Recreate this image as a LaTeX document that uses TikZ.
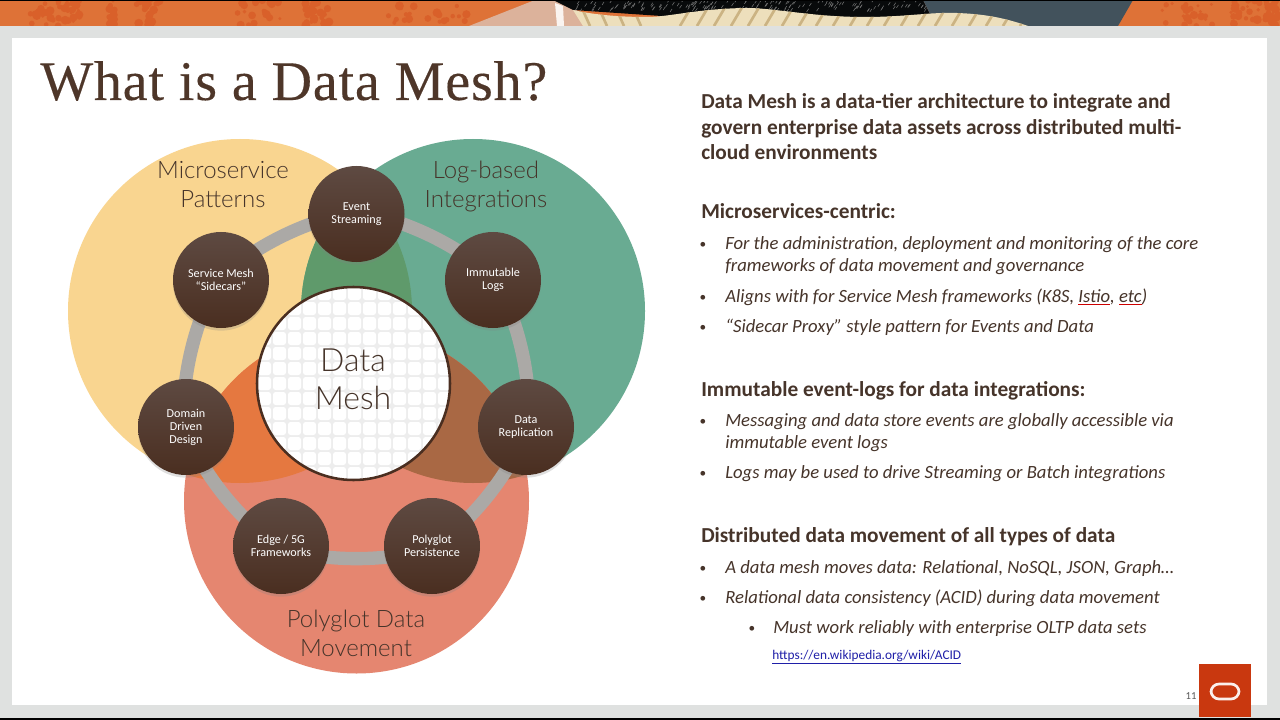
\documentclass[tikz,border=0pt]{standalone}
\usepackage{fontspec}
\usepackage{xcolor}
\usetikzlibrary{backgrounds,shadows}
\setmainfont{Carlito}
\newfontfamily\titlefont[FakeBold=0.25,LetterSpace=1.5]{Liberation Serif}
\newfontfamily\handfont{Lato Light}
\definecolor{ink}{HTML}{46342A}
\definecolor{titleink}{HTML}{4E3629}
\definecolor{framegray}{HTML}{DFE1E0}
\definecolor{ringgray}{HTML}{ABA9A6}
\definecolor{hubtop}{HTML}{5E4A42}
\definecolor{hubbottom}{HTML}{4A2E20}
\definecolor{banner}{HTML}{DE7237}
\definecolor{bannerdark}{HTML}{D9602A}
\definecolor{slate}{HTML}{42525C}
\definecolor{cream}{HTML}{EDDFBC}
\definecolor{tan}{HTML}{CBB383}
\definecolor{peach}{HTML}{DCB29B}
\definecolor{sunny}{HTML}{F9D590}
\definecolor{sea}{HTML}{69AB92}
\definecolor{salmon}{HTML}{E58670}
\definecolor{moss}{HTML}{5F9A6B}
\definecolor{pumpkin}{HTML}{E57840}
\definecolor{clay}{HTML}{A96844}
\definecolor{oracle}{HTML}{C9380F}
\definecolor{linkblue}{HTML}{1F1FA8}
\newcommand{\spellmark}[1]{\textcolor{red!80!black}{\underline{\textcolor{ink}{#1}}}}
\newcommand{\wavepath}{(573,10) .. controls (590,14) and (615,17) .. (647,17) .. controls (670,17) and (700,8) .. (750,8)
  .. controls (780,9) and (815,17) .. (865,17) .. controls (905,17) and (930,12) .. (957,13)
  .. controls (985,14) and (1005,18) .. (1028,26) -- (583,26) -- cycle}
\tikzset{
  hub/.style={circle, minimum size=72pt, inner sep=0pt, top color=hubtop, bottom color=hubbottom,
    text=white, align=center, font=\fontsize{9.1pt}{9.8pt}\selectfont,
    drop shadow={shadow xshift=0pt, shadow yshift=-2pt, opacity=0.25}},
  ringline/.style={ringgray, line width=10pt, bend left=25.7, looseness=0.66},
  hand/.style={align=center, text=ink, font=\handfont\fontsize{18pt}{21.75pt}\selectfont},
  lead/.style={anchor=base west, text=ink, inner sep=0pt, font=\bfseries\fontsize{16pt}{19pt}\selectfont},
  item/.style={anchor=base west, text=ink, inner sep=0pt, font=\itshape\fontsize{14pt}{17pt}\selectfont},
  dot/.style={anchor=base, text=ink, inner sep=0pt, font=\fontsize{10pt}{12pt}\selectfont},
}
\begin{document}
\begin{tikzpicture}[x=0.75pt, y=-0.75pt]
\useasboundingbox (0,0) rectangle (1280,720);
\pgfmathsetseed{7}
\begin{scope}[on background layer]
% slide frame and banner
\fill[framegray] (0,0) rectangle (1280,720);
\fill[white] (12,38) rectangle (1267,705);
\fill[banner] (0,0) rectangle (1280,26);
\begin{scope}
\clip (0,0) rectangle (1280,26);
\foreach \cx/\cw in {45/18, 72/8, 112/3, 148/12, 258/22, 318/14, 430/45, 1188/27, 1245/15, 1272/7} {
  \foreach \k in {1,...,22} {
    \pgfmathsetmacro\rx{\cx+\cw*rand}
    \pgfmathsetmacro\ry{13+13*rand}
    \pgfmathsetmacro\rr{1.5+3*rnd}
    \fill[bannerdark] (\rx,\ry) circle (\rr);
  }
}
\end{scope}
\fill[peach] (535,0) -- (469,26) -- (585,26) -- (572,0) -- cycle;
\fill[black!88!slate] (553,0) -- (573,10) -- (750,22) -- (960,22) -- (930,14) -- (923,0) -- cycle;
\foreach \k in {1,...,170} {
  \pgfmathsetmacro\rx{575+350*rnd}
  \pgfmathsetmacro\ry{2+10*rnd}
  \draw[black!55, line width=0.4pt] (\rx,\ry) -- ++(2,-3);
}
\fill[slate] (923,0) -- (1133,0) -- (1118,26) -- (930,26) -- (930,14) -- cycle;
\fill[white!85!peach] (555,3) -- (563,6) -- (564,26) -- (557,26) -- cycle;
\fill[cream] \wavepath;
\begin{scope}
\clip \wavepath;
\foreach \i in {590,607,...,650}
  \draw[tan, line width=2pt] (\i,26) -- ({\i-9},6);
\foreach \i in {680,697,...,1020}
  \draw[tan, line width=2pt] (\i,26) -- ({\i+13},4);
\end{scope}
\fill[black] (0,0) rectangle (1280,1.5);
\fill[black] (0,718) rectangle (1280,720);
% overlapping circles
\fill[sunny] (240,311) circle (172);
\fill[sea] (473,311) circle (172);
\fill[salmon] (356.5,501) circle (172.5);
\begin{scope}
\clip (240,311) circle (172);
\fill[moss] (473,311) circle (172);
\fill[pumpkin] (356.5,501) circle (172.5);
\end{scope}
\begin{scope}
\clip (473,311) circle (172);
\fill[clay] (356.5,501) circle (172.5);
\end{scope}
% woven centre
\fill[black!7] (353.5,383.5) circle (96.5);
\begin{scope}
\clip (353.5,383.5) circle (96.5);
\foreach \i in {0,...,12}
  \foreach \j in {0,...,12}
    \fill[white, rounded corners=2pt] ({258+15*\i},{287+15*\j}) rectangle ++(13,13);
\end{scope}
\draw[hubbottom, line width=1.9pt] (353.5,383.5) circle (96.5);
\end{scope}
% ring of hubs
\node[hub] (event) at (356.5,214) {Event\\Streaming};
\node[hub] (logs) at (493,280) {Immutable\\Logs};
\node[hub] (replication) at (526,427) {Data\\Replication};
\node[hub] (persistence) at (432,546) {Polyglot\\Persistence};
\node[hub] (edge) at (281,546) {Edge / 5G\\Frameworks};
\node[hub] (domain) at (186,427) {Domain\\Driven\\Design};
\node[hub] (sidecars) at (221,280) {Service Mesh\\``Sidecars''};
\begin{scope}[on background layer]
\draw[ringline] (event.center) to (logs.center);
\draw[ringline] (logs.center) to (replication.center);
\draw[ringline] (replication.center) to (persistence.center);
\draw[ringline] (persistence.center) to (edge.center);
\draw[ringline] (edge.center) to (domain.center);
\draw[ringline] (domain.center) to (sidecars.center);
\draw[ringline] (sidecars.center) to (event.center);
\end{scope}
\node[hand] (patterns) at (223,185) {Microservice\\Patterns};
\node[hand] (integrations) at (486,186) {Log-based\\Integrations};
\node[hand] (movement) at (356,633) {Polyglot Data\\Movement};
\node[hand, font=\handfont\fontsize{24pt}{28.5pt}\selectfont] (mesh) at (353,379) {Data\\Mesh};
% title
\node[anchor=base west, inner sep=0pt, text=titleink, font=\titlefont\fontsize{42pt}{48pt}\selectfont] (title) at (40,100) {What is a Data Mesh?};
% right column
\node[lead] (l1) at (701,109) {Data Mesh is a data-tier architecture to integrate and};
\node[lead] (l2) at (701,135) {govern enterprise data assets across distributed multi-};
\node[lead] (l3) at (701,160) {cloud environments};
\node[lead] (h1) at (701,219) {Microservices-centric:};
\node[dot] (d1) at (703,248) {•};
\node[item] (a1) at (725,249) {For the administration, deployment and monitoring of the core};
\node[item] (a2) at (725,271) {frameworks of data movement and governance};
\node[dot] (d2) at (703,301) {•};
\node[item] (a3) at (725,302) {Aligns with for Service Mesh frameworks (K8S, \spellmark{Istio}, \spellmark{etc})};
\node[dot] (d3) at (703,331) {•};
\node[item] (a4) at (725,332) {``Sidecar Proxy'' style pattern for Events and Data};
\node[lead] (h2) at (701,396) {Immutable event-logs for data integrations:};
\node[dot] (d4) at (703,425) {•};
\node[item] (b1) at (725,426) {Messaging and data store events are globally accessible via};
\node[item] (b2) at (725,448) {immutable event logs};
\node[dot] (d5) at (703,477) {•};
\node[item] (b3) at (725,478) {Logs may be used to drive Streaming or Batch integrations};
\node[lead] (h3) at (701,542) {Distributed data movement of all types of data};
\node[dot] (d6) at (703,572) {•};
\node[item] (c1) at (725,573) {A data mesh moves data: Relational, NoSQL, JSON, Graph\dots};
\node[dot] (d7) at (703,602) {•};
\node[item] (c2) at (725,603) {Relational data consistency (ACID) during data movement};
\node[dot] (d8) at (752,632) {•};
\node[item] (c3) at (773,633) {Must work reliably with enterprise OLTP data sets};
\node[anchor=base west, inner sep=0pt, text=linkblue, font=\fontsize{10pt}{12pt}\selectfont] (link) at (772,659) {\underline{https://en.wikipedia.org/wiki/ACID}};
% footer
\node[anchor=base, inner sep=0pt, text=black!65, font=\fontsize{8pt}{10pt}\selectfont] (page) at (1191,699) {11};
\fill[oracle] (1199,664) rectangle (1251,717);
\draw[white!92!oracle, line width=2pt, rounded corners=6pt] (1211,684) rectangle (1239,699);
\end{tikzpicture}
\end{document}
